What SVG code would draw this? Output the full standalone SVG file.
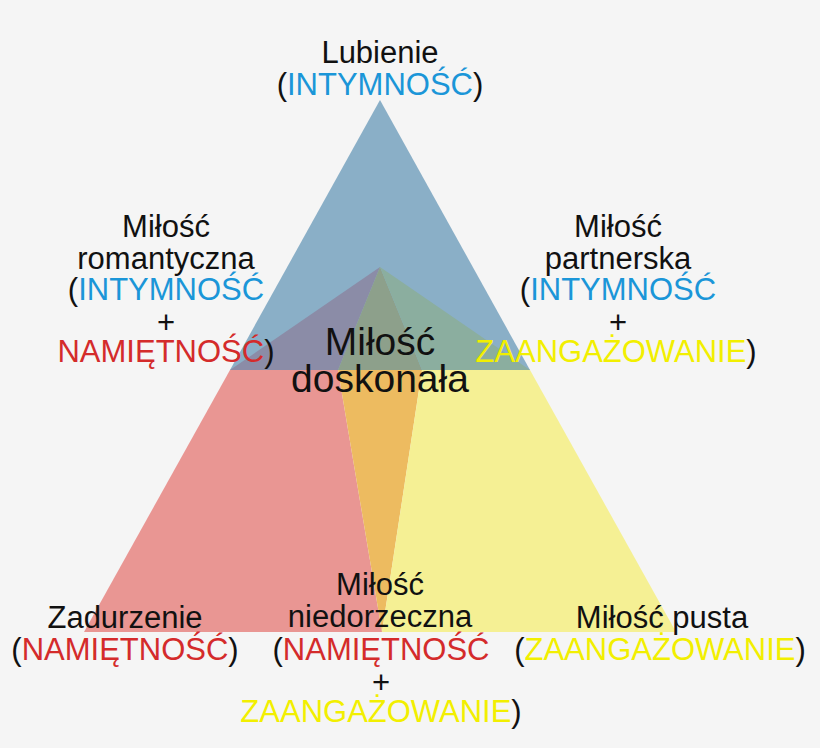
<svg xmlns="http://www.w3.org/2000/svg" width="820" height="748" viewBox="0 0 820 748">
<style>
text{font-family:"Liberation Sans",Arial,sans-serif;font-size:31px;fill:#111;text-anchor:middle}
.big{font-size:39px}
.b{fill:#1b96d8}
.r{fill:#d42b2b}
.y{fill:#f2ef00}
</style>
<rect width="820" height="748" fill="#f5f5f5"/>
<g id="triangle">
<polygon points="380,100 230,370 530,370" fill="#8aafc7"/>
<polygon points="380,267 230,370 338,370" fill="#8b8ca7"/>
<polygon points="380,267 338,370 422,370" fill="#8da08b"/>
<polygon points="380,267 422,370 530,370" fill="#8bae9f"/>
<polygon points="230,370 84,632 382,632 338,370" fill="#e99693"/>
<polygon points="338,370 422,370 382,632" fill="#edbb60"/>
<polygon points="422,370 530,370 676,632 382,632" fill="#f5f094"/>
</g>
<g id="lubienie">
<text x="380" y="63">Lubienie</text>
<text x="380" y="95">(<tspan class="b">INTYMNOŚĆ</tspan>)</text>
</g>
<g id="romantyczna">
<text x="166" y="237">Miłość</text>
<text x="166" y="269">romantyczna</text>
<text x="166" y="300">(<tspan class="b">INTYMNOŚĆ</tspan></text>
<text x="166" y="333">+</text>
<text x="166" y="362"><tspan class="r">NAMIĘTNOŚĆ</tspan>)</text>
</g>
<g id="partnerska">
<text x="618" y="237">Miłość</text>
<text x="618" y="269">partnerska</text>
<text x="618" y="300">(<tspan class="b">INTYMNOŚĆ</tspan></text>
<text x="618" y="333">+</text>
<text x="616" y="362"><tspan class="y">ZAANGAŻOWANIE</tspan>)</text>
</g>
<g id="doskonala">
<text class="big" x="380" y="355">Miłość</text>
<text class="big" x="380" y="392">doskonała</text>
</g>
<g id="zadurzenie">
<text x="125" y="628">Zadurzenie</text>
<text x="125" y="660">(<tspan class="r">NAMIĘTNOŚĆ</tspan>)</text>
</g>
<g id="niedorzeczna">
<text x="380" y="595">Miłość</text>
<text x="380" y="627">niedorzeczna</text>
<text x="381" y="660">(<tspan class="r">NAMIĘTNOŚĆ</tspan></text>
<text x="381" y="693">+</text>
<text x="381" y="722"><tspan class="y">ZAANGAŻOWANIE</tspan>)</text>
</g>
<g id="pusta">
<text x="662" y="628">Miłość pusta</text>
<text x="660" y="660">(<tspan class="y">ZAANGAŻOWANIE</tspan>)</text>
</g>
</svg>
